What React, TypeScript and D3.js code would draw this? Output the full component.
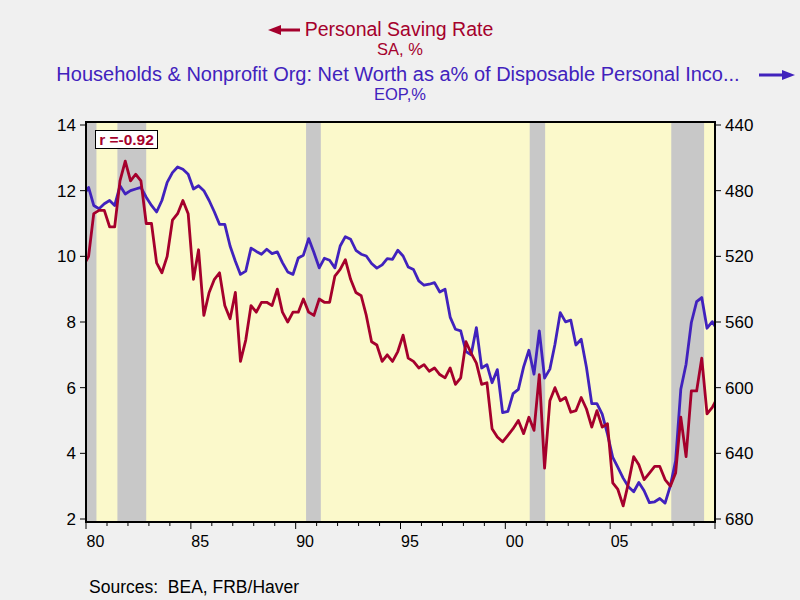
import React from "react";
import * as d3 from "d3";

// quarterly, 1979Q4 .. 2010Q1
const firstQuarter = { year: 1979, q: 4 };

const savingRate = [
  9.7,
  10.0, 11.3, 11.4, 11.4,
  10.9, 10.9, 12.3, 12.9,
  12.3, 12.5, 12.3, 11.0,
  11.0, 9.8, 9.5, 10.0,
  11.1, 11.3, 11.7, 11.3,
  9.3, 10.2, 8.2, 8.9,
  9.3, 9.5, 8.5, 8.1,
  8.9, 6.8, 7.45, 8.5,
  8.3, 8.6, 8.6, 8.5,
  9.0, 8.3, 8.0, 8.3,
  8.3, 8.7, 8.3, 8.2,
  8.7, 8.6, 8.6, 9.4,
  9.6, 9.9, 9.3, 8.9,
  8.8, 8.2, 7.4, 7.3,
  6.8, 7.0, 6.8, 7.1,
  7.6, 6.9, 6.8, 6.6,
  6.7, 6.5, 6.6, 6.4,
  6.3, 6.6, 6.1, 6.3,
  7.4, 7.05, 6.75, 6.1,
  6.15, 4.75, 4.5, 4.35,
  4.55, 4.75, 5.0, 4.6,
  5.1, 4.7, 6.4, 3.55,
  5.6, 6.0, 5.6, 5.7,
  5.25, 5.3, 5.7, 5.35,
  4.8, 5.3, 4.8, 4.9,
  3.1, 2.9, 2.4, 3.1,
  3.9, 3.65, 3.2, 3.4,
  3.6, 3.6, 3.2, 3.0,
  3.4, 5.1, 3.9, 5.9,
  5.9, 6.9, 5.2, 5.4,
  5.7,
];

const netWorthRatio = [
  483,
  478, 489, 491, 488,
  486, 489, 477, 482,
  480, 479, 478, 484,
  489, 493, 486, 475,
  469, 465.6, 467, 470,
  479, 477, 480, 486,
  493, 500.5, 500.5, 513.7,
  523, 531, 529, 515,
  517, 518.7, 515.7, 518.3,
  517.3, 523.8, 529.5, 531,
  521, 519.3, 509.2, 517.7,
  527, 521.2, 522.4, 527,
  513.7, 508, 509.6, 516.3,
  518.7, 519.8, 524.4, 527.2,
  525.2, 521.4, 521.8, 516.3,
  519.8, 526.5, 528, 535,
  537.6, 537, 536, 541.7,
  540, 557, 564.4, 565.4,
  578, 580, 563.4, 588,
  586, 597, 589, 615.2,
  614.5, 603.6, 601, 587.3,
  577.2, 591.8, 565.4, 594.2,
  588.7, 573.5, 554.3, 559.9,
  558.9, 574, 570.5, 587.7,
  609.7, 609.7, 616.1, 628.3,
  642.5, 648.6, 655.1, 660.4,
  663.4, 657.8, 662.8, 670,
  669.5, 667.5, 670.3, 659.8,
  644.6, 601, 585.7, 560.3,
  547.6, 545.1, 563.8, 559.8,
  565,
];

// NBER recessions, month precision
const recessions = [
  ["1980-01-01", "1980-07-01"],
  ["1981-07-01", "1982-11-15"],
  ["1990-07-01", "1991-03-15"],
  ["2001-03-01", "2001-11-25"],
  ["2007-12-01", "2009-06-25"],
];

const leftTicks = [2, 4, 6, 8, 10, 12, 14];
const rightTicks = [440, 480, 520, 560, 600, 640, 680];
const yearLabels = [1980, 1985, 1990, 1995, 2000, 2005];

const RED = "#a5002c";
const BLUE = "#4122bd";
const FONT = "'Liberation Sans', Arial, sans-serif";

const quarterDate = (i: number) => {
  const n = firstQuarter.year * 4 + (firstQuarter.q - 1) + i;
  const year = Math.floor(n / 4);
  const q = n % 4;
  return new Date(year, q * 3 + 1, 15);
};

export default function App() {
  const left = 86;
  const right = 715;
  const top = 122;
  const bottom = 522;

  const x = d3
    .scaleTime()
    .domain([new Date(1980, 0, 1), new Date(2010, 0, 1)])
    .range([left, right]);
  const yL = d3.scaleLinear().domain([2, 14]).range([519, 125]);
  const yR = d3.scaleLinear().domain([440, 680]).range([125, 519]);

  const saving = savingRate.map((v, i) => ({ d: quarterDate(i), v }));
  const worth = netWorthRatio.map((v, i) => ({ d: quarterDate(i), v }));

  const savingLine = d3
    .line<{ d: Date; v: number }>()
    .x((p) => x(p.d))
    .y((p) => yL(p.v));
  const worthLine = d3
    .line<{ d: Date; v: number }>()
    .x((p) => x(p.d))
    .y((p) => yR(p.v));

  const years = d3.range(1980, 2011);

  return (
    <svg
      width={800}
      height={600}
      style={{ position: "absolute", left: 0, top: 0, background: "#f0f0f0" }}
      fontFamily={FONT}
    >
      <rect width={800} height={600} fill="#f0f0f0" />

      {/* legend */}
      <g>
        <line x1={280} x2={300} y1={30} y2={30} stroke={RED} strokeWidth={3} />
        <path d="M268,30 L281,25 L281,35 Z" fill={RED} />
        <text x={399} y={36} fontSize={19.5} fill={RED} textAnchor="middle">
          Personal Saving Rate
        </text>
        <text x={400} y={55} fontSize={16.5} fill={RED} textAnchor="middle">
          SA, %
        </text>
        <text x={398} y={81} fontSize={20} fill={BLUE} textAnchor="middle">
          Households &amp; Nonprofit Org: Net Worth as a% of Disposable Personal Inco...
        </text>
        <line x1={759} x2={782} y1={75} y2={75} stroke={BLUE} strokeWidth={3} />
        <path d="M795,75 L782,70 L782,80 Z" fill={BLUE} />
        <text x={400} y={100} fontSize={16.5} fill={BLUE} textAnchor="middle">
          EOP,%
        </text>
      </g>

      {/* plot area */}
      <rect x={left} y={top} width={right - left} height={bottom - top} fill="#fbf9cb" />
      {recessions.map(([a, b]) => {
        const x0 = Math.max(left, x(new Date(a)));
        const x1 = Math.min(right, x(new Date(b)));
        return (
          <rect key={a} x={x0} y={top} width={x1 - x0} height={bottom - top} fill="#c8c8c8" />
        );
      })}

      <defs>
        <clipPath id="plot-clip">
          <rect x={left} y={top} width={right - left} height={bottom - top} />
        </clipPath>
      </defs>
      <g clipPath="url(#plot-clip)" fill="none" strokeWidth={2.8} strokeLinejoin="round">
        <path d={worthLine(worth) ?? ""} stroke={BLUE} />
        <path d={savingLine(saving) ?? ""} stroke={RED} />
      </g>

      {/* frame */}
      <rect
        x={left}
        y={top}
        width={right - left}
        height={bottom - top}
        fill="none"
        stroke="#000"
        strokeWidth={2}
      />

      {/* left axis */}
      {leftTicks.map((t) => (
        <g key={t}>
          <line x1={left - 6} x2={left} y1={yL(t)} y2={yL(t)} stroke="#000" strokeWidth={1} />
          <text x={left - 10} y={yL(t) + 6} fontSize={17} textAnchor="end" fill="#000">
            {t}
          </text>
        </g>
      ))}

      {/* right axis */}
      {rightTicks.map((t) => (
        <g key={t}>
          <line x1={right} x2={right + 6} y1={yR(t)} y2={yR(t)} stroke="#000" strokeWidth={1} />
          <text x={right + 10} y={yR(t) + 6} fontSize={17} textAnchor="start" fill="#000">
            {t}
          </text>
        </g>
      ))}

      {/* bottom axis */}
      {years.map((yr) => {
        const major = yr % 5 === 0;
        const px = x(new Date(yr, 0, 1));
        return (
          <line
            key={yr}
            x1={px}
            x2={px}
            y1={bottom}
            y2={bottom + (major ? 7 : 4)}
            stroke="#000"
            strokeWidth={1}
          />
        );
      })}
      {yearLabels.map((yr) => (
        <text
          key={yr}
          x={x(new Date(yr, 0, 1)) + 0.5}
          y={547}
          fontSize={16}
          textAnchor="start"
          fill="#000"
        >
          {String(yr).slice(2)}
        </text>
      ))}

      {/* correlation tag */}
      <rect x={95.5} y={130.5} width={62} height={18} fill="#fff" stroke="#000" strokeWidth={1} />
      <text x={126.5} y={145} fontSize={15.5} fontWeight="bold" fill={RED} textAnchor="middle">
        r =-0.92
      </text>

      <text x={89} y={593} fontSize={17.5} fill="#000" style={{ whiteSpace: "pre" }}>
        Sources:  BEA, FRB/Haver
      </text>
    </svg>
  );
}
